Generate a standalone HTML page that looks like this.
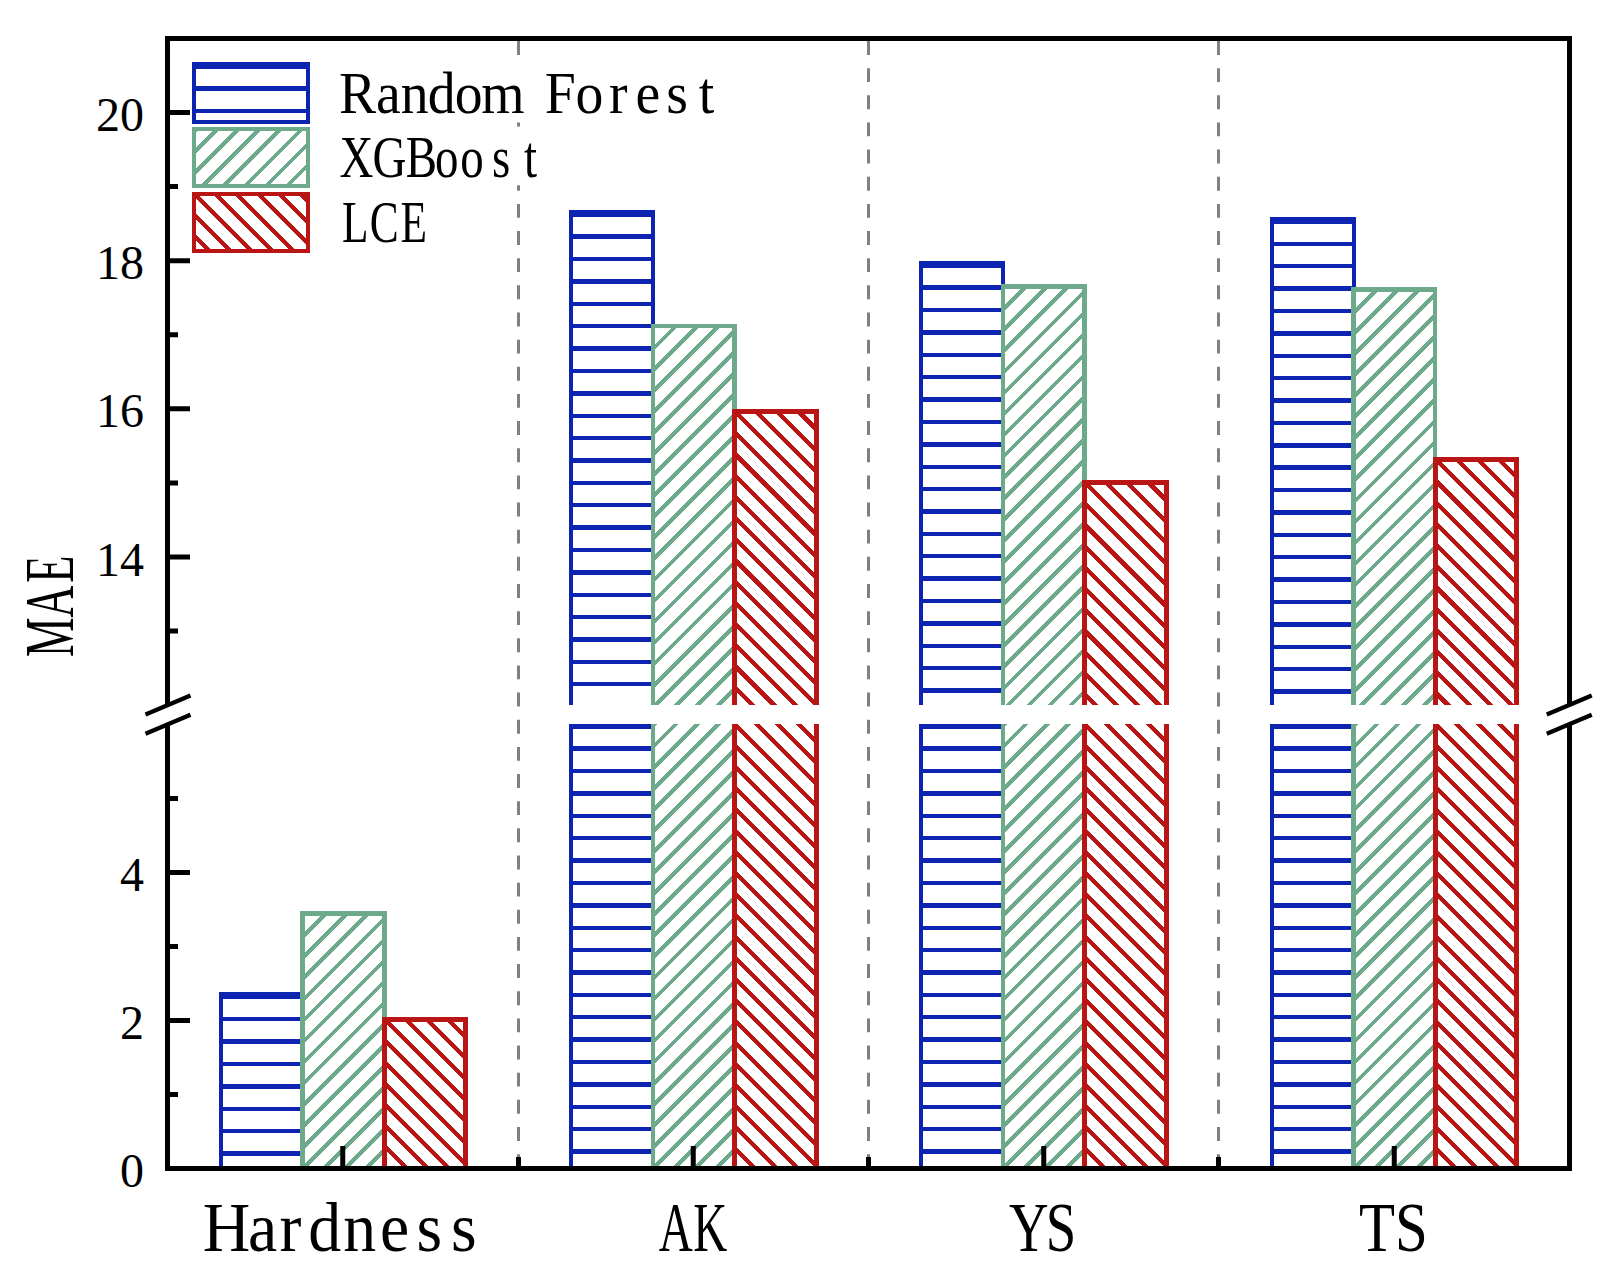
<!DOCTYPE html>
<html><head><meta charset="utf-8"><title>MAE comparison</title>
<style>html,body{margin:0;padding:0;background:#fff}svg{display:block}</style></head>
<body>
<svg width="1615" height="1280" viewBox="0 0 1615 1280">
<rect width="1615" height="1280" fill="#fff"/>
<line x1="518.50" y1="41" x2="518.50" y2="1166" stroke="#808080" stroke-width="3" stroke-dasharray="13.9 13.25"/>
<line x1="868.50" y1="41" x2="868.50" y2="1166" stroke="#808080" stroke-width="3" stroke-dasharray="13.9 13.25"/>
<line x1="1218.50" y1="41" x2="1218.50" y2="1166" stroke="#808080" stroke-width="3" stroke-dasharray="13.9 13.25"/>
<clipPath id="c1"><rect x="221.00" y="994.50" width="81.65" height="174.00"/></clipPath>
<rect x="221.00" y="994.50" width="81.65" height="174.00" fill="#fff"/>
<path d="M221.00 996.80L302.65 996.80M221.00 1019.18L302.65 1019.18M221.00 1041.56L302.65 1041.56M221.00 1063.94L302.65 1063.94M221.00 1086.32L302.65 1086.32M221.00 1108.70L302.65 1108.70M221.00 1131.08L302.65 1131.08M221.00 1153.46L302.65 1153.46" stroke="#0d24b0" stroke-width="4.4" fill="none" clip-path="url(#c1)" shape-rendering="crispEdges"/>
<path d="M221.00 1168.50V994.50H302.65V1168.50" fill="none" stroke="#0d24b0" stroke-width="4.1" shape-rendering="crispEdges"/>
<clipPath id="c2"><rect x="302.65" y="913.60" width="81.65" height="254.90"/></clipPath>
<rect x="302.65" y="913.60" width="81.65" height="254.90" fill="#fff"/>
<path d="M299.65 918.90L387.30 831.25M299.65 939.97L387.30 852.32M299.65 961.04L387.30 873.39M299.65 982.11L387.30 894.46M299.65 1003.18L387.30 915.53M299.65 1024.25L387.30 936.60M299.65 1045.32L387.30 957.67M299.65 1066.39L387.30 978.74M299.65 1087.46L387.30 999.81M299.65 1108.53L387.30 1020.88M299.65 1129.60L387.30 1041.95M299.65 1150.67L387.30 1063.02M299.65 1171.74L387.30 1084.09M299.65 1192.81L387.30 1105.16M299.65 1213.88L387.30 1126.23M299.65 1234.95L387.30 1147.30M299.65 1256.02L387.30 1168.37" stroke="#6caa8b" stroke-width="4.0" fill="none" clip-path="url(#c2)" shape-rendering="crispEdges"/>
<path d="M302.65 1168.50V913.60H384.30V1168.50" fill="none" stroke="#6caa8b" stroke-width="4.4" shape-rendering="crispEdges"/>
<clipPath id="c3"><rect x="384.30" y="1019.50" width="81.65" height="149.00"/></clipPath>
<rect x="384.30" y="1019.50" width="81.65" height="149.00" fill="#fff"/>
<path d="M381.30 910.00L468.95 997.65M381.30 931.20L468.95 1018.85M381.30 952.40L468.95 1040.05M381.30 973.60L468.95 1061.25M381.30 994.80L468.95 1082.45M381.30 1016.00L468.95 1103.65M381.30 1037.20L468.95 1124.85M381.30 1058.40L468.95 1146.05M381.30 1079.60L468.95 1167.25M381.30 1100.80L468.95 1188.45M381.30 1122.00L468.95 1209.65M381.30 1143.20L468.95 1230.85M381.30 1164.40L468.95 1252.05" stroke="#b91515" stroke-width="4.3" fill="none" clip-path="url(#c3)" shape-rendering="crispEdges"/>
<path d="M384.30 1168.50V1019.50H465.95V1168.50" fill="none" stroke="#b91515" stroke-width="5.0" shape-rendering="crispEdges"/>
<clipPath id="c4"><rect x="571.10" y="212.00" width="81.65" height="493.00"/></clipPath>
<rect x="571.10" y="212.00" width="81.65" height="493.00" fill="#fff"/>
<path d="M571.10 214.30L652.75 214.30M571.10 236.68L652.75 236.68M571.10 259.06L652.75 259.06M571.10 281.44L652.75 281.44M571.10 303.82L652.75 303.82M571.10 326.20L652.75 326.20M571.10 348.58L652.75 348.58M571.10 370.96L652.75 370.96M571.10 393.34L652.75 393.34M571.10 415.72L652.75 415.72M571.10 438.10L652.75 438.10M571.10 460.48L652.75 460.48M571.10 482.86L652.75 482.86M571.10 505.24L652.75 505.24M571.10 527.62L652.75 527.62M571.10 550.00L652.75 550.00M571.10 572.38L652.75 572.38M571.10 594.76L652.75 594.76M571.10 617.14L652.75 617.14M571.10 639.52L652.75 639.52M571.10 661.90L652.75 661.90M571.10 684.28L652.75 684.28" stroke="#0d24b0" stroke-width="4.4" fill="none" clip-path="url(#c4)" shape-rendering="crispEdges"/>
<path d="M571.10 705.00V212.00H652.75V705.00" fill="none" stroke="#0d24b0" stroke-width="4.1" shape-rendering="crispEdges"/>
<clipPath id="c5"><rect x="571.10" y="724.00" width="81.65" height="444.50"/></clipPath>
<rect x="571.10" y="724.00" width="81.65" height="444.50" fill="#fff"/>
<path d="M571.10 726.30L652.75 726.30M571.10 748.68L652.75 748.68M571.10 771.06L652.75 771.06M571.10 793.44L652.75 793.44M571.10 815.82L652.75 815.82M571.10 838.20L652.75 838.20M571.10 860.58L652.75 860.58M571.10 882.96L652.75 882.96M571.10 905.34L652.75 905.34M571.10 927.72L652.75 927.72M571.10 950.10L652.75 950.10M571.10 972.48L652.75 972.48M571.10 994.86L652.75 994.86M571.10 1017.24L652.75 1017.24M571.10 1039.62L652.75 1039.62M571.10 1062.00L652.75 1062.00M571.10 1084.38L652.75 1084.38M571.10 1106.76L652.75 1106.76M571.10 1129.14L652.75 1129.14M571.10 1151.52L652.75 1151.52" stroke="#0d24b0" stroke-width="4.4" fill="none" clip-path="url(#c5)" shape-rendering="crispEdges"/>
<path d="M571.10 1168.50V724.00M652.75 724.00V1168.50" fill="none" stroke="#0d24b0" stroke-width="4.1" shape-rendering="crispEdges"/>
<clipPath id="c6"><rect x="652.75" y="326.00" width="81.65" height="379.00"/></clipPath>
<rect x="652.75" y="326.00" width="81.65" height="379.00" fill="#fff"/>
<path d="M649.75 331.30L737.40 243.65M649.75 352.37L737.40 264.72M649.75 373.44L737.40 285.79M649.75 394.51L737.40 306.86M649.75 415.58L737.40 327.93M649.75 436.65L737.40 349.00M649.75 457.72L737.40 370.07M649.75 478.79L737.40 391.14M649.75 499.86L737.40 412.21M649.75 520.93L737.40 433.28M649.75 542.00L737.40 454.35M649.75 563.07L737.40 475.42M649.75 584.14L737.40 496.49M649.75 605.21L737.40 517.56M649.75 626.28L737.40 538.63M649.75 647.35L737.40 559.70M649.75 668.42L737.40 580.77M649.75 689.49L737.40 601.84M649.75 710.56L737.40 622.91M649.75 731.63L737.40 643.98M649.75 752.70L737.40 665.05M649.75 773.77L737.40 686.12" stroke="#6caa8b" stroke-width="4.0" fill="none" clip-path="url(#c6)" shape-rendering="crispEdges"/>
<path d="M652.75 705.00V326.00H734.40V705.00" fill="none" stroke="#6caa8b" stroke-width="4.4" shape-rendering="crispEdges"/>
<clipPath id="c7"><rect x="652.75" y="724.00" width="81.65" height="444.50"/></clipPath>
<rect x="652.75" y="724.00" width="81.65" height="444.50" fill="#fff"/>
<path d="M649.75 729.30L737.40 641.65M649.75 750.37L737.40 662.72M649.75 771.44L737.40 683.79M649.75 792.51L737.40 704.86M649.75 813.58L737.40 725.93M649.75 834.65L737.40 747.00M649.75 855.72L737.40 768.07M649.75 876.79L737.40 789.14M649.75 897.86L737.40 810.21M649.75 918.93L737.40 831.28M649.75 940.00L737.40 852.35M649.75 961.07L737.40 873.42M649.75 982.14L737.40 894.49M649.75 1003.21L737.40 915.56M649.75 1024.28L737.40 936.63M649.75 1045.35L737.40 957.70M649.75 1066.42L737.40 978.77M649.75 1087.49L737.40 999.84M649.75 1108.56L737.40 1020.91M649.75 1129.63L737.40 1041.98M649.75 1150.70L737.40 1063.05M649.75 1171.77L737.40 1084.12M649.75 1192.84L737.40 1105.19M649.75 1213.91L737.40 1126.26M649.75 1234.98L737.40 1147.33M649.75 1256.05L737.40 1168.40" stroke="#6caa8b" stroke-width="4.0" fill="none" clip-path="url(#c7)" shape-rendering="crispEdges"/>
<path d="M652.75 1168.50V724.00M734.40 724.00V1168.50" fill="none" stroke="#6caa8b" stroke-width="4.4" shape-rendering="crispEdges"/>
<clipPath id="c8"><rect x="734.40" y="411.50" width="81.65" height="293.50"/></clipPath>
<rect x="734.40" y="411.50" width="81.65" height="293.50" fill="#fff"/>
<path d="M731.40 302.00L819.05 389.65M731.40 323.20L819.05 410.85M731.40 344.40L819.05 432.05M731.40 365.60L819.05 453.25M731.40 386.80L819.05 474.45M731.40 408.00L819.05 495.65M731.40 429.20L819.05 516.85M731.40 450.40L819.05 538.05M731.40 471.60L819.05 559.25M731.40 492.80L819.05 580.45M731.40 514.00L819.05 601.65M731.40 535.20L819.05 622.85M731.40 556.40L819.05 644.05M731.40 577.60L819.05 665.25M731.40 598.80L819.05 686.45M731.40 620.00L819.05 707.65M731.40 641.20L819.05 728.85M731.40 662.40L819.05 750.05M731.40 683.60L819.05 771.25M731.40 704.80L819.05 792.45" stroke="#b91515" stroke-width="4.3" fill="none" clip-path="url(#c8)" shape-rendering="crispEdges"/>
<path d="M734.40 705.00V411.50H816.05V705.00" fill="none" stroke="#b91515" stroke-width="5.0" shape-rendering="crispEdges"/>
<clipPath id="c9"><rect x="734.40" y="724.00" width="81.65" height="444.50"/></clipPath>
<rect x="734.40" y="724.00" width="81.65" height="444.50" fill="#fff"/>
<path d="M731.40 614.50L819.05 702.15M731.40 635.70L819.05 723.35M731.40 656.90L819.05 744.55M731.40 678.10L819.05 765.75M731.40 699.30L819.05 786.95M731.40 720.50L819.05 808.15M731.40 741.70L819.05 829.35M731.40 762.90L819.05 850.55M731.40 784.10L819.05 871.75M731.40 805.30L819.05 892.95M731.40 826.50L819.05 914.15M731.40 847.70L819.05 935.35M731.40 868.90L819.05 956.55M731.40 890.10L819.05 977.75M731.40 911.30L819.05 998.95M731.40 932.50L819.05 1020.15M731.40 953.70L819.05 1041.35M731.40 974.90L819.05 1062.55M731.40 996.10L819.05 1083.75M731.40 1017.30L819.05 1104.95M731.40 1038.50L819.05 1126.15M731.40 1059.70L819.05 1147.35M731.40 1080.90L819.05 1168.55M731.40 1102.10L819.05 1189.75M731.40 1123.30L819.05 1210.95M731.40 1144.50L819.05 1232.15M731.40 1165.70L819.05 1253.35" stroke="#b91515" stroke-width="4.3" fill="none" clip-path="url(#c9)" shape-rendering="crispEdges"/>
<path d="M734.40 1168.50V724.00M816.05 724.00V1168.50" fill="none" stroke="#b91515" stroke-width="5.0" shape-rendering="crispEdges"/>
<clipPath id="c10"><rect x="921.10" y="263.00" width="81.65" height="442.00"/></clipPath>
<rect x="921.10" y="263.00" width="81.65" height="442.00" fill="#fff"/>
<path d="M921.10 265.30L1002.75 265.30M921.10 287.68L1002.75 287.68M921.10 310.06L1002.75 310.06M921.10 332.44L1002.75 332.44M921.10 354.82L1002.75 354.82M921.10 377.20L1002.75 377.20M921.10 399.58L1002.75 399.58M921.10 421.96L1002.75 421.96M921.10 444.34L1002.75 444.34M921.10 466.72L1002.75 466.72M921.10 489.10L1002.75 489.10M921.10 511.48L1002.75 511.48M921.10 533.86L1002.75 533.86M921.10 556.24L1002.75 556.24M921.10 578.62L1002.75 578.62M921.10 601.00L1002.75 601.00M921.10 623.38L1002.75 623.38M921.10 645.76L1002.75 645.76M921.10 668.14L1002.75 668.14M921.10 690.52L1002.75 690.52" stroke="#0d24b0" stroke-width="4.4" fill="none" clip-path="url(#c10)" shape-rendering="crispEdges"/>
<path d="M921.10 705.00V263.00H1002.75V705.00" fill="none" stroke="#0d24b0" stroke-width="4.1" shape-rendering="crispEdges"/>
<clipPath id="c11"><rect x="921.10" y="724.00" width="81.65" height="444.50"/></clipPath>
<rect x="921.10" y="724.00" width="81.65" height="444.50" fill="#fff"/>
<path d="M921.10 726.30L1002.75 726.30M921.10 748.68L1002.75 748.68M921.10 771.06L1002.75 771.06M921.10 793.44L1002.75 793.44M921.10 815.82L1002.75 815.82M921.10 838.20L1002.75 838.20M921.10 860.58L1002.75 860.58M921.10 882.96L1002.75 882.96M921.10 905.34L1002.75 905.34M921.10 927.72L1002.75 927.72M921.10 950.10L1002.75 950.10M921.10 972.48L1002.75 972.48M921.10 994.86L1002.75 994.86M921.10 1017.24L1002.75 1017.24M921.10 1039.62L1002.75 1039.62M921.10 1062.00L1002.75 1062.00M921.10 1084.38L1002.75 1084.38M921.10 1106.76L1002.75 1106.76M921.10 1129.14L1002.75 1129.14M921.10 1151.52L1002.75 1151.52" stroke="#0d24b0" stroke-width="4.4" fill="none" clip-path="url(#c11)" shape-rendering="crispEdges"/>
<path d="M921.10 1168.50V724.00M1002.75 724.00V1168.50" fill="none" stroke="#0d24b0" stroke-width="4.1" shape-rendering="crispEdges"/>
<clipPath id="c12"><rect x="1002.75" y="286.50" width="81.65" height="418.50"/></clipPath>
<rect x="1002.75" y="286.50" width="81.65" height="418.50" fill="#fff"/>
<path d="M999.75 291.80L1087.40 204.15M999.75 312.87L1087.40 225.22M999.75 333.94L1087.40 246.29M999.75 355.01L1087.40 267.36M999.75 376.08L1087.40 288.43M999.75 397.15L1087.40 309.50M999.75 418.22L1087.40 330.57M999.75 439.29L1087.40 351.64M999.75 460.36L1087.40 372.71M999.75 481.43L1087.40 393.78M999.75 502.50L1087.40 414.85M999.75 523.57L1087.40 435.92M999.75 544.64L1087.40 456.99M999.75 565.71L1087.40 478.06M999.75 586.78L1087.40 499.13M999.75 607.85L1087.40 520.20M999.75 628.92L1087.40 541.27M999.75 649.99L1087.40 562.34M999.75 671.06L1087.40 583.41M999.75 692.13L1087.40 604.48M999.75 713.20L1087.40 625.55M999.75 734.27L1087.40 646.62M999.75 755.34L1087.40 667.69M999.75 776.41L1087.40 688.76" stroke="#6caa8b" stroke-width="4.0" fill="none" clip-path="url(#c12)" shape-rendering="crispEdges"/>
<path d="M1002.75 705.00V286.50H1084.40V705.00" fill="none" stroke="#6caa8b" stroke-width="4.4" shape-rendering="crispEdges"/>
<clipPath id="c13"><rect x="1002.75" y="724.00" width="81.65" height="444.50"/></clipPath>
<rect x="1002.75" y="724.00" width="81.65" height="444.50" fill="#fff"/>
<path d="M999.75 729.30L1087.40 641.65M999.75 750.37L1087.40 662.72M999.75 771.44L1087.40 683.79M999.75 792.51L1087.40 704.86M999.75 813.58L1087.40 725.93M999.75 834.65L1087.40 747.00M999.75 855.72L1087.40 768.07M999.75 876.79L1087.40 789.14M999.75 897.86L1087.40 810.21M999.75 918.93L1087.40 831.28M999.75 940.00L1087.40 852.35M999.75 961.07L1087.40 873.42M999.75 982.14L1087.40 894.49M999.75 1003.21L1087.40 915.56M999.75 1024.28L1087.40 936.63M999.75 1045.35L1087.40 957.70M999.75 1066.42L1087.40 978.77M999.75 1087.49L1087.40 999.84M999.75 1108.56L1087.40 1020.91M999.75 1129.63L1087.40 1041.98M999.75 1150.70L1087.40 1063.05M999.75 1171.77L1087.40 1084.12M999.75 1192.84L1087.40 1105.19M999.75 1213.91L1087.40 1126.26M999.75 1234.98L1087.40 1147.33M999.75 1256.05L1087.40 1168.40" stroke="#6caa8b" stroke-width="4.0" fill="none" clip-path="url(#c13)" shape-rendering="crispEdges"/>
<path d="M1002.75 1168.50V724.00M1084.40 724.00V1168.50" fill="none" stroke="#6caa8b" stroke-width="4.4" shape-rendering="crispEdges"/>
<clipPath id="c14"><rect x="1084.40" y="482.50" width="81.65" height="222.50"/></clipPath>
<rect x="1084.40" y="482.50" width="81.65" height="222.50" fill="#fff"/>
<path d="M1081.40 373.00L1169.05 460.65M1081.40 394.20L1169.05 481.85M1081.40 415.40L1169.05 503.05M1081.40 436.60L1169.05 524.25M1081.40 457.80L1169.05 545.45M1081.40 479.00L1169.05 566.65M1081.40 500.20L1169.05 587.85M1081.40 521.40L1169.05 609.05M1081.40 542.60L1169.05 630.25M1081.40 563.80L1169.05 651.45M1081.40 585.00L1169.05 672.65M1081.40 606.20L1169.05 693.85M1081.40 627.40L1169.05 715.05M1081.40 648.60L1169.05 736.25M1081.40 669.80L1169.05 757.45M1081.40 691.00L1169.05 778.65" stroke="#b91515" stroke-width="4.3" fill="none" clip-path="url(#c14)" shape-rendering="crispEdges"/>
<path d="M1084.40 705.00V482.50H1166.05V705.00" fill="none" stroke="#b91515" stroke-width="5.0" shape-rendering="crispEdges"/>
<clipPath id="c15"><rect x="1084.40" y="724.00" width="81.65" height="444.50"/></clipPath>
<rect x="1084.40" y="724.00" width="81.65" height="444.50" fill="#fff"/>
<path d="M1081.40 614.50L1169.05 702.15M1081.40 635.70L1169.05 723.35M1081.40 656.90L1169.05 744.55M1081.40 678.10L1169.05 765.75M1081.40 699.30L1169.05 786.95M1081.40 720.50L1169.05 808.15M1081.40 741.70L1169.05 829.35M1081.40 762.90L1169.05 850.55M1081.40 784.10L1169.05 871.75M1081.40 805.30L1169.05 892.95M1081.40 826.50L1169.05 914.15M1081.40 847.70L1169.05 935.35M1081.40 868.90L1169.05 956.55M1081.40 890.10L1169.05 977.75M1081.40 911.30L1169.05 998.95M1081.40 932.50L1169.05 1020.15M1081.40 953.70L1169.05 1041.35M1081.40 974.90L1169.05 1062.55M1081.40 996.10L1169.05 1083.75M1081.40 1017.30L1169.05 1104.95M1081.40 1038.50L1169.05 1126.15M1081.40 1059.70L1169.05 1147.35M1081.40 1080.90L1169.05 1168.55M1081.40 1102.10L1169.05 1189.75M1081.40 1123.30L1169.05 1210.95M1081.40 1144.50L1169.05 1232.15M1081.40 1165.70L1169.05 1253.35" stroke="#b91515" stroke-width="4.3" fill="none" clip-path="url(#c15)" shape-rendering="crispEdges"/>
<path d="M1084.40 1168.50V724.00M1166.05 724.00V1168.50" fill="none" stroke="#b91515" stroke-width="5.0" shape-rendering="crispEdges"/>
<clipPath id="c16"><rect x="1271.90" y="219.20" width="81.65" height="485.80"/></clipPath>
<rect x="1271.90" y="219.20" width="81.65" height="485.80" fill="#fff"/>
<path d="M1271.90 221.50L1353.55 221.50M1271.90 243.88L1353.55 243.88M1271.90 266.26L1353.55 266.26M1271.90 288.64L1353.55 288.64M1271.90 311.02L1353.55 311.02M1271.90 333.40L1353.55 333.40M1271.90 355.78L1353.55 355.78M1271.90 378.16L1353.55 378.16M1271.90 400.54L1353.55 400.54M1271.90 422.92L1353.55 422.92M1271.90 445.30L1353.55 445.30M1271.90 467.68L1353.55 467.68M1271.90 490.06L1353.55 490.06M1271.90 512.44L1353.55 512.44M1271.90 534.82L1353.55 534.82M1271.90 557.20L1353.55 557.20M1271.90 579.58L1353.55 579.58M1271.90 601.96L1353.55 601.96M1271.90 624.34L1353.55 624.34M1271.90 646.72L1353.55 646.72M1271.90 669.10L1353.55 669.10M1271.90 691.48L1353.55 691.48" stroke="#0d24b0" stroke-width="4.4" fill="none" clip-path="url(#c16)" shape-rendering="crispEdges"/>
<path d="M1271.90 705.00V219.20H1353.55V705.00" fill="none" stroke="#0d24b0" stroke-width="4.1" shape-rendering="crispEdges"/>
<clipPath id="c17"><rect x="1271.90" y="724.00" width="81.65" height="444.50"/></clipPath>
<rect x="1271.90" y="724.00" width="81.65" height="444.50" fill="#fff"/>
<path d="M1271.90 726.30L1353.55 726.30M1271.90 748.68L1353.55 748.68M1271.90 771.06L1353.55 771.06M1271.90 793.44L1353.55 793.44M1271.90 815.82L1353.55 815.82M1271.90 838.20L1353.55 838.20M1271.90 860.58L1353.55 860.58M1271.90 882.96L1353.55 882.96M1271.90 905.34L1353.55 905.34M1271.90 927.72L1353.55 927.72M1271.90 950.10L1353.55 950.10M1271.90 972.48L1353.55 972.48M1271.90 994.86L1353.55 994.86M1271.90 1017.24L1353.55 1017.24M1271.90 1039.62L1353.55 1039.62M1271.90 1062.00L1353.55 1062.00M1271.90 1084.38L1353.55 1084.38M1271.90 1106.76L1353.55 1106.76M1271.90 1129.14L1353.55 1129.14M1271.90 1151.52L1353.55 1151.52" stroke="#0d24b0" stroke-width="4.4" fill="none" clip-path="url(#c17)" shape-rendering="crispEdges"/>
<path d="M1271.90 1168.50V724.00M1353.55 724.00V1168.50" fill="none" stroke="#0d24b0" stroke-width="4.1" shape-rendering="crispEdges"/>
<clipPath id="c18"><rect x="1353.55" y="289.30" width="81.65" height="415.70"/></clipPath>
<rect x="1353.55" y="289.30" width="81.65" height="415.70" fill="#fff"/>
<path d="M1350.55 294.60L1438.20 206.95M1350.55 315.67L1438.20 228.02M1350.55 336.74L1438.20 249.09M1350.55 357.81L1438.20 270.16M1350.55 378.88L1438.20 291.23M1350.55 399.95L1438.20 312.30M1350.55 421.02L1438.20 333.37M1350.55 442.09L1438.20 354.44M1350.55 463.16L1438.20 375.51M1350.55 484.23L1438.20 396.58M1350.55 505.30L1438.20 417.65M1350.55 526.37L1438.20 438.72M1350.55 547.44L1438.20 459.79M1350.55 568.51L1438.20 480.86M1350.55 589.58L1438.20 501.93M1350.55 610.65L1438.20 523.00M1350.55 631.72L1438.20 544.07M1350.55 652.79L1438.20 565.14M1350.55 673.86L1438.20 586.21M1350.55 694.93L1438.20 607.28M1350.55 716.00L1438.20 628.35M1350.55 737.07L1438.20 649.42M1350.55 758.14L1438.20 670.49M1350.55 779.21L1438.20 691.56" stroke="#6caa8b" stroke-width="4.0" fill="none" clip-path="url(#c18)" shape-rendering="crispEdges"/>
<path d="M1353.55 705.00V289.30H1435.20V705.00" fill="none" stroke="#6caa8b" stroke-width="4.4" shape-rendering="crispEdges"/>
<clipPath id="c19"><rect x="1353.55" y="724.00" width="81.65" height="444.50"/></clipPath>
<rect x="1353.55" y="724.00" width="81.65" height="444.50" fill="#fff"/>
<path d="M1350.55 729.30L1438.20 641.65M1350.55 750.37L1438.20 662.72M1350.55 771.44L1438.20 683.79M1350.55 792.51L1438.20 704.86M1350.55 813.58L1438.20 725.93M1350.55 834.65L1438.20 747.00M1350.55 855.72L1438.20 768.07M1350.55 876.79L1438.20 789.14M1350.55 897.86L1438.20 810.21M1350.55 918.93L1438.20 831.28M1350.55 940.00L1438.20 852.35M1350.55 961.07L1438.20 873.42M1350.55 982.14L1438.20 894.49M1350.55 1003.21L1438.20 915.56M1350.55 1024.28L1438.20 936.63M1350.55 1045.35L1438.20 957.70M1350.55 1066.42L1438.20 978.77M1350.55 1087.49L1438.20 999.84M1350.55 1108.56L1438.20 1020.91M1350.55 1129.63L1438.20 1041.98M1350.55 1150.70L1438.20 1063.05M1350.55 1171.77L1438.20 1084.12M1350.55 1192.84L1438.20 1105.19M1350.55 1213.91L1438.20 1126.26M1350.55 1234.98L1438.20 1147.33M1350.55 1256.05L1438.20 1168.40" stroke="#6caa8b" stroke-width="4.0" fill="none" clip-path="url(#c19)" shape-rendering="crispEdges"/>
<path d="M1353.55 1168.50V724.00M1435.20 724.00V1168.50" fill="none" stroke="#6caa8b" stroke-width="4.4" shape-rendering="crispEdges"/>
<clipPath id="c20"><rect x="1435.20" y="459.50" width="81.65" height="245.50"/></clipPath>
<rect x="1435.20" y="459.50" width="81.65" height="245.50" fill="#fff"/>
<path d="M1432.20 350.00L1519.85 437.65M1432.20 371.20L1519.85 458.85M1432.20 392.40L1519.85 480.05M1432.20 413.60L1519.85 501.25M1432.20 434.80L1519.85 522.45M1432.20 456.00L1519.85 543.65M1432.20 477.20L1519.85 564.85M1432.20 498.40L1519.85 586.05M1432.20 519.60L1519.85 607.25M1432.20 540.80L1519.85 628.45M1432.20 562.00L1519.85 649.65M1432.20 583.20L1519.85 670.85M1432.20 604.40L1519.85 692.05M1432.20 625.60L1519.85 713.25M1432.20 646.80L1519.85 734.45M1432.20 668.00L1519.85 755.65M1432.20 689.20L1519.85 776.85" stroke="#b91515" stroke-width="4.3" fill="none" clip-path="url(#c20)" shape-rendering="crispEdges"/>
<path d="M1435.20 705.00V459.50H1516.85V705.00" fill="none" stroke="#b91515" stroke-width="5.0" shape-rendering="crispEdges"/>
<clipPath id="c21"><rect x="1435.20" y="724.00" width="81.65" height="444.50"/></clipPath>
<rect x="1435.20" y="724.00" width="81.65" height="444.50" fill="#fff"/>
<path d="M1432.20 614.50L1519.85 702.15M1432.20 635.70L1519.85 723.35M1432.20 656.90L1519.85 744.55M1432.20 678.10L1519.85 765.75M1432.20 699.30L1519.85 786.95M1432.20 720.50L1519.85 808.15M1432.20 741.70L1519.85 829.35M1432.20 762.90L1519.85 850.55M1432.20 784.10L1519.85 871.75M1432.20 805.30L1519.85 892.95M1432.20 826.50L1519.85 914.15M1432.20 847.70L1519.85 935.35M1432.20 868.90L1519.85 956.55M1432.20 890.10L1519.85 977.75M1432.20 911.30L1519.85 998.95M1432.20 932.50L1519.85 1020.15M1432.20 953.70L1519.85 1041.35M1432.20 974.90L1519.85 1062.55M1432.20 996.10L1519.85 1083.75M1432.20 1017.30L1519.85 1104.95M1432.20 1038.50L1519.85 1126.15M1432.20 1059.70L1519.85 1147.35M1432.20 1080.90L1519.85 1168.55M1432.20 1102.10L1519.85 1189.75M1432.20 1123.30L1519.85 1210.95M1432.20 1144.50L1519.85 1232.15M1432.20 1165.70L1519.85 1253.35" stroke="#b91515" stroke-width="4.3" fill="none" clip-path="url(#c21)" shape-rendering="crispEdges"/>
<path d="M1435.20 1168.50V724.00M1516.85 724.00V1168.50" fill="none" stroke="#b91515" stroke-width="5.0" shape-rendering="crispEdges"/>
<path d="M167.5 705.5V38.5H1569.5V705.5M1569.5 724V1168.5H167.5V724" fill="none" stroke="#000" stroke-width="5" stroke-linejoin="miter"/>
<line x1="145.50" y1="714.50" x2="190.50" y2="695.50" stroke="#000" stroke-width="4.2"/>
<line x1="145.50" y1="733.80" x2="190.50" y2="714.80" stroke="#000" stroke-width="4.2"/>
<line x1="1546.75" y1="714.50" x2="1591.75" y2="695.50" stroke="#000" stroke-width="4.2"/>
<line x1="1546.75" y1="733.80" x2="1591.75" y2="714.80" stroke="#000" stroke-width="4.2"/>
<path d="M170 631.06H178M170 556.98H190M170 482.90H178M170 408.82H190M170 334.74H178M170 260.66H190M170 186.58H178M170 112.50H190M170 1094.50H178M170 1020.50H190M170 946.50H178M170 872.50H190M170 798.50H178" stroke="#000" stroke-width="5" fill="none"/>
<path d="M342.75 1166V1146M693.25 1166V1146M1043.75 1166V1146M1394.25 1166V1146M518.50 1166V1157M868.50 1166V1157M1218.50 1166V1157" stroke="#000" stroke-width="5" fill="none"/>
<text x="144" y="131.0" font-size="48" text-anchor="end" font-family="'Liberation Serif', 'Noto Serif CJK SC', serif">20</text>
<text x="144" y="279.2" font-size="48" text-anchor="end" font-family="'Liberation Serif', 'Noto Serif CJK SC', serif">18</text>
<text x="144" y="427.3" font-size="48" text-anchor="end" font-family="'Liberation Serif', 'Noto Serif CJK SC', serif">16</text>
<text x="144" y="575.5" font-size="48" text-anchor="end" font-family="'Liberation Serif', 'Noto Serif CJK SC', serif">14</text>
<text x="144" y="891.0" font-size="48" text-anchor="end" font-family="'Liberation Serif', 'Noto Serif CJK SC', serif">4</text>
<text x="144" y="1039.0" font-size="48" text-anchor="end" font-family="'Liberation Serif', 'Noto Serif CJK SC', serif">2</text>
<text x="144" y="1187.0" font-size="48" text-anchor="end" font-family="'Liberation Serif', 'Noto Serif CJK SC', serif">0</text>
<rect x="340" y="62.6" width="381.4" height="58.7" fill="#fff"/>
<rect x="340" y="126.6" width="205.3" height="58.7" fill="#fff"/>
<rect x="340" y="191.2" width="88.0" height="58.7" fill="#fff"/>
<clipPath id="c22"><rect x="194.00" y="64.00" width="114.00" height="57.50"/></clipPath>
<rect x="194.00" y="64.00" width="114.00" height="57.50" fill="#fff"/>
<path d="M194.00 66.30L308.00 66.30M194.00 88.68L308.00 88.68M194.00 111.06L308.00 111.06" stroke="#0d24b0" stroke-width="4.4" fill="none" clip-path="url(#c22)" shape-rendering="crispEdges"/>
<rect x="194.00" y="64.00" width="114.00" height="57.50" fill="none" stroke="#0d24b0" stroke-width="4" shape-rendering="crispEdges"/>
<text x="356.73 395.82 421.82 450.25 478.74 506.71 553.54 573.39 605.70 641.15 668.97 701.44 735.62" y="113.0" font-size="58.67" font-family="'Liberation Serif', 'Noto Serif CJK SC', serif" transform="scale(0.9500,1)">Random Forest</text>
<clipPath id="c23"><rect x="194.00" y="129.20" width="114.00" height="56.80"/></clipPath>
<rect x="194.00" y="129.20" width="114.00" height="56.80" fill="#fff"/>
<path d="M191.00 134.50L311.00 14.50M191.00 155.57L311.00 35.57M191.00 176.64L311.00 56.64M191.00 197.71L311.00 77.71M191.00 218.78L311.00 98.78M191.00 239.85L311.00 119.85M191.00 260.92L311.00 140.92M191.00 281.99L311.00 161.99M191.00 303.06L311.00 183.06" stroke="#6caa8b" stroke-width="4.0" fill="none" clip-path="url(#c23)" shape-rendering="crispEdges"/>
<rect x="194.00" y="129.20" width="114.00" height="56.80" fill="none" stroke="#6caa8b" stroke-width="4" shape-rendering="crispEdges"/>
<text x="424.34 465.74 507.09 543.62 575.34 615.12 655.08" y="177.0" font-size="58.67" font-family="'Liberation Serif', 'Noto Serif CJK SC', serif" transform="scale(0.8000,1)">XGBoost</text>
<clipPath id="c24"><rect x="194.00" y="194.00" width="114.00" height="56.50"/></clipPath>
<rect x="194.00" y="194.00" width="114.00" height="56.50" fill="#fff"/>
<path d="M191.00 42.10L311.00 162.10M191.00 63.30L311.00 183.30M191.00 84.50L311.00 204.50M191.00 105.70L311.00 225.70M191.00 126.90L311.00 246.90M191.00 148.10L311.00 268.10M191.00 169.30L311.00 289.30M191.00 190.50L311.00 310.50M191.00 211.70L311.00 331.70M191.00 232.90L311.00 352.90" stroke="#b91515" stroke-width="4.3" fill="none" clip-path="url(#c24)" shape-rendering="crispEdges"/>
<rect x="194.00" y="194.00" width="114.00" height="56.50" fill="none" stroke="#b91515" stroke-width="4" shape-rendering="crispEdges"/>
<text x="462.28 499.77 541.26" y="241.6" font-size="58.67" font-family="'Liberation Serif', 'Noto Serif CJK SC', serif" transform="scale(0.7400,1)">LCE</text>
<text x="213.36 261.07 294.12 324.38 361.43 399.99 438.35 474.84" y="1251" font-size="69.33" font-family="'Liberation Serif', 'Noto Serif CJK SC', serif" transform="scale(0.9500,1)">Hardness</text>
<text x="968.84 1019.34" y="1251" font-size="69.33" font-family="'Liberation Serif', 'Noto Serif CJK SC', serif" transform="scale(0.6800,1)">AK</text>
<text x="1277.18 1323.69" y="1251" font-size="69.33" font-family="'Liberation Serif', 'Noto Serif CJK SC', serif" transform="scale(0.7900,1)">YS</text>
<text x="1598.85 1641.24" y="1251" font-size="69.33" font-family="'Liberation Serif', 'Noto Serif CJK SC', serif" transform="scale(0.8500,1)">TS</text>
<text x="-82.46 -21.18 33.72" y="0" font-size="69.33" font-family="'Liberation Serif', 'Noto Serif CJK SC', serif" transform="translate(72.7,604.3) rotate(-90) scale(0.6400,1)">MAE</text>
</svg>
</body></html>
